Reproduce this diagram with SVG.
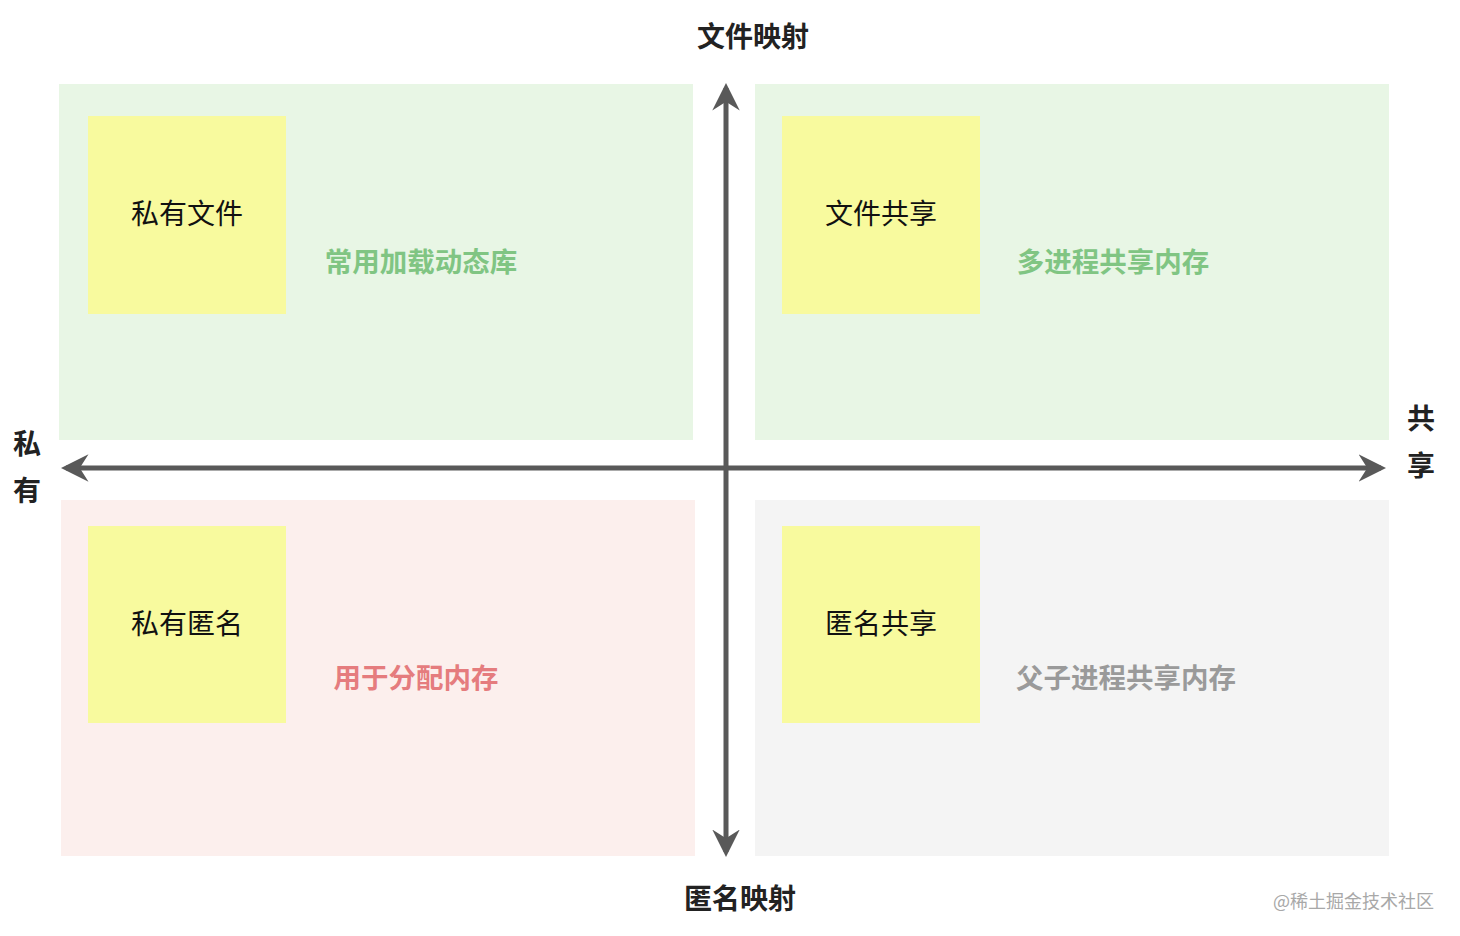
<svg xmlns="http://www.w3.org/2000/svg" width="1460" height="936" viewBox="0 0 1460 936">
<style>
.t{font-family:"Noto Sans CJK SC","Noto Sans",sans-serif}
.ax{font-size:28px;font-weight:bold;fill:#222}
.bx{font-size:28px;fill:#111}
.note{font-size:27.5px;font-weight:bold}
.sticky{fill:#f8fa9e}
.conn{stroke:#595959;stroke-width:5;fill:none}
</style>
<defs>
<marker id="ah" viewBox="0 0 12 12" refX="9" refY="6" markerWidth="6" markerHeight="6" markerUnits="strokeWidth" orient="auto-start-reverse">
<path d="M0,0.5 L11,6 L0,11.5 L3.5,6 Z" fill="#595959"/>
</marker>
</defs>
<rect width="1460" height="936" fill="#fff"/>
<g id="q-tl"><rect x="59" y="84" width="634" height="356" fill="#e8f6e5"/></g>
<g id="q-tr"><rect x="755" y="84" width="634" height="356" fill="#e8f6e5"/></g>
<g id="q-bl"><rect x="61" y="500" width="634" height="356" fill="#fcefed"/></g>
<g id="q-br"><rect x="755" y="500" width="634" height="356" fill="#f4f4f4"/></g>
<g id="connectors">
<line class="conn" x1="66" y1="468" x2="1381" y2="468" marker-start="url(#ah)" marker-end="url(#ah)"/>
<line class="conn" x1="726" y1="88" x2="726" y2="852" marker-start="url(#ah)" marker-end="url(#ah)"/>
</g>
<g id="n1"><rect class="sticky" x="88" y="116" width="198" height="198"/><text class="t bx" x="187" y="224" text-anchor="middle">私有文件</text></g>
<g id="n2"><rect class="sticky" x="782" y="116" width="198" height="198"/><text class="t bx" x="881" y="224" text-anchor="middle">文件共享</text></g>
<g id="n3"><rect class="sticky" x="88" y="526" width="198" height="197"/><text class="t bx" x="187" y="634" text-anchor="middle">私有匿名</text></g>
<g id="n4"><rect class="sticky" x="782" y="526" width="198" height="197"/><text class="t bx" x="881" y="634" text-anchor="middle">匿名共享</text></g>
<g id="labels">
<text class="t ax" x="753" y="47" text-anchor="middle">文件映射</text>
<text class="t ax" x="740" y="909" text-anchor="middle">匿名映射</text>
<text class="t ax" x="27" y="454" text-anchor="middle">私</text>
<text class="t ax" x="27" y="501" text-anchor="middle">有</text>
<text class="t ax" x="1421" y="429" text-anchor="middle">共</text>
<text class="t ax" x="1421" y="476" text-anchor="middle">享</text>
<text class="t note" x="421" y="272" text-anchor="middle" fill="#80c583">常用加载动态库</text>
<text class="t note" x="1113" y="272" text-anchor="middle" fill="#80c583">多进程共享内存</text>
<text class="t note" x="416" y="688" text-anchor="middle" fill="#e57c7e">用于分配内存</text>
<text class="t note" x="1126" y="688" text-anchor="middle" fill="#9a9a9a">父子进程共享内存</text>
<text class="t" x="1434" y="908" text-anchor="end" font-size="18" fill="#a8a8a8">@稀土掘金技术社区</text>
</g>
</svg>
